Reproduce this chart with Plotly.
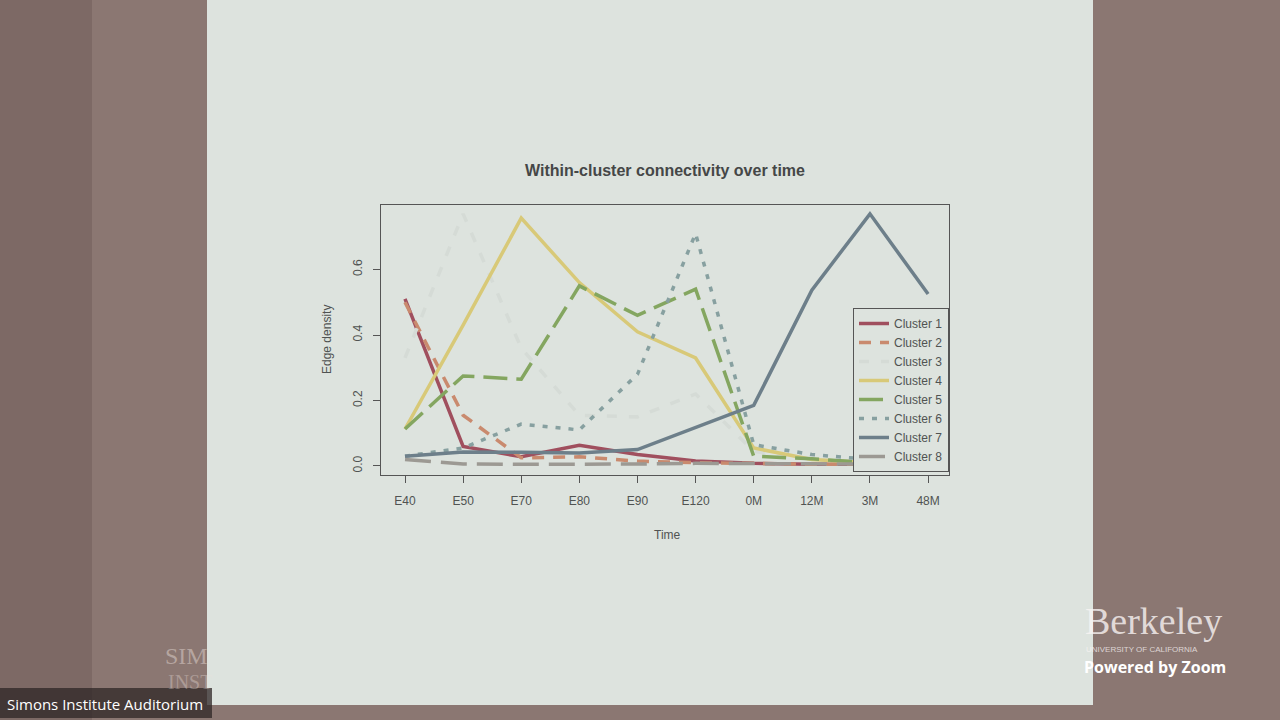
import plotly.graph_objects as go

# ---------------- data ----------------
time_labels = ["E40", "E50", "E70", "E80", "E90", "E120", "0M", "12M", "3M", "48M"]
cluster_names = ["Cluster 1", "Cluster 2", "Cluster 3", "Cluster 4",
                 "Cluster 5", "Cluster 6", "Cluster 7", "Cluster 8"]
cluster1 = [0.51, 0.06, 0.028, 0.063, 0.035, 0.015, 0.008, 0.005, 0.005, 0.005]
cluster2 = [0.50, 0.155, 0.025, 0.028, 0.015, 0.010, 0.008, 0.005, 0.005, 0.005]
cluster3 = [0.33, 0.77, 0.36, 0.155, 0.15, 0.22, 0.045, 0.02, 0.01, 0.01]
cluster4 = [0.113, 0.43, 0.757, 0.56, 0.41, 0.33, 0.055, 0.02, 0.01, 0.01]
cluster5 = [0.113, 0.275, 0.265, 0.55, 0.46, 0.54, 0.03, 0.022, 0.01, 0.01]
cluster6 = [0.03, 0.055, 0.128, 0.11, 0.28, 0.71, 0.065, 0.035, 0.02, 0.02]
cluster7 = [0.03, 0.043, 0.042, 0.04, 0.05, 0.117, 0.185, 0.537, 0.77, 0.525]
cluster8 = [0.02, 0.006, 0.005, 0.005, 0.006, 0.008, 0.007, 0.005, 0.005, 0.005]
y_ticks = [0.0, 0.2, 0.4, 0.6]

series = [cluster1, cluster2, cluster3, cluster4, cluster5, cluster6, cluster7, cluster8]
colors = ["#a04f5e", "#c98a6e", "#d5dbd6", "#d8c978", "#84a660", "#87a0a0", "#6d7f8a", "#9c9993"]
dashes = ["solid", "12px,9px", "10px,12px", "solid", "24px,9px", "5px,8px", "solid", "26px,10px"]

# ---------------- geometry (pixels) ----------------
W, H = 1280, 720
L, R, T, B = 381, 949, 205, 475
pw, ph = R - L, B - T


def px(x):
    return (x - L) / pw


def py(y):
    return (B - y) / ph


slide_bg = "#dde3de"
text_col = "#505352"

fig = go.Figure()
for name, vals, col, d in zip(cluster_names, series, colors, dashes):
    fig.add_trace(go.Scatter(
        x=list(range(len(time_labels))), y=vals, name=name, mode="lines",
        line=dict(color=col, width=3.5, dash=d), cliponaxis=True,
    ))

shapes = [
    # darker left strip of the room
    dict(type="rect", xref="paper", yref="paper", x0=px(0), x1=px(92), y0=py(720), y1=py(0),
         fillcolor="#7d6965", line=dict(width=0), layer="below"),
    # projected slide
    dict(type="rect", xref="paper", yref="paper", x0=px(207), x1=px(1093), y0=py(705), y1=py(0),
         fillcolor=slide_bg, line=dict(width=0), layer="below"),
    # caption box bottom-left
    dict(type="rect", xref="paper", yref="paper", x0=px(0), x1=px(212), y0=py(718), y1=py(688),
         fillcolor="rgba(45,38,38,0.75)", line=dict(width=0), layer="above"),
]


def ann(text, x, y, size, color, family=None, angle=0):
    f = dict(size=size, color=color)
    if family:
        f["family"] = family
    return dict(text=text, xref="paper", yref="paper", x=px(x), y=py(y), xanchor="center",
                yanchor="middle", showarrow=False, textangle=angle, font=f)


annotations = [
    ann("Edge density", 327, 340, 12, text_col, angle=-90),
    ann("Time", 667, 535, 12, text_col),
    ann("Simons Institute Auditorium", 105, 704, 15, "white", "Open Sans"),
    ann("SIM", 186, 656, 24, "rgba(235,225,220,0.45)", "Liberation Serif"),
    ann("INST", 190, 682, 20, "rgba(235,225,220,0.35)", "Liberation Serif"),
    ann("Berkeley", 1153, 621, 38, "rgba(250,245,245,0.8)", "Liberation Serif"),
    ann("UNIVERSITY OF CALIFORNIA", 1142, 649, 8, "rgba(250,245,245,0.75)"),
    ann("<b>Powered by Zoom</b>", 1155, 667, 16, "white", "Open Sans"),
]

fig.update_layout(
    width=W, height=H,
    margin=dict(l=L, r=W - R, t=T, b=H - B, pad=0),
    paper_bgcolor="#8b7772",
    plot_bgcolor=slide_bg,
    font=dict(family="Liberation Sans", color=text_col, size=12),
    title=dict(text="<b>Within-cluster connectivity over time</b>", x=px(665), xref="paper",
               xanchor="center", y=1 - 170 / H, yanchor="middle",
               font=dict(size=16, color="#454747")),
    xaxis=dict(range=[-0.413, 9.36], tickvals=list(range(len(time_labels))), ticktext=time_labels,
               showgrid=False, zeroline=False, showline=True, linecolor="#555", linewidth=1,
               mirror=True, ticks="outside", ticklen=7, tickcolor="#555", ticklabelstandoff=8,
               tickfont=dict(size=12, color=text_col)),
    yaxis=dict(range=[-0.0275, 0.797], tickvals=y_ticks, ticktext=[f"{v:.1f}" for v in y_ticks],
               showgrid=False, zeroline=False, showline=True, linecolor="#555", linewidth=1,
               mirror=True, ticks="outside", ticklen=7, tickcolor="#555", tickangle=-90,
               ticklabelstandoff=6, tickfont=dict(size=12, color=text_col)),
    legend=dict(x=1, y=py(472), xanchor="right", yanchor="bottom", bgcolor=slide_bg,
                bordercolor="#555", borderwidth=1, font=dict(size=12, color=text_col),
                tracegroupgap=0),
    shapes=shapes,
    annotations=annotations,
)

fig.write_html("out.html", config={"displayModeBar": False},
               post_script="document.body.style.margin='0';document.body.style.overflow='hidden';")
